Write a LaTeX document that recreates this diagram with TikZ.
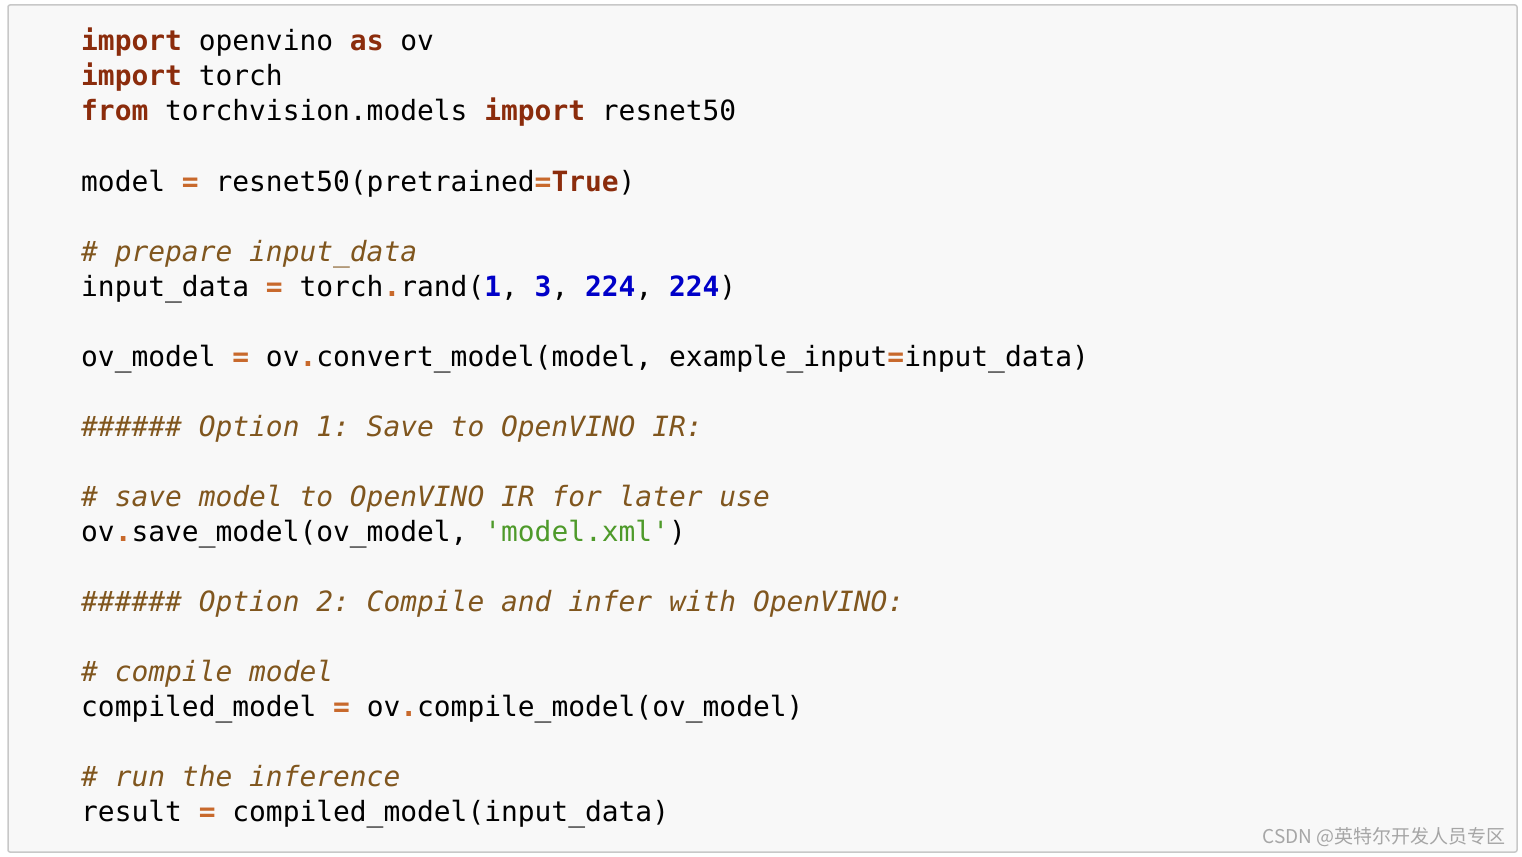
\documentclass[tikz,border=0pt]{standalone}
\usepackage{fontspec}
\setmonofont{DejaVu Sans Mono}
\newfontfamily\cjk{Noto Sans CJK SC}
\definecolor{kwc}{HTML}{8B2C0C}
\definecolor{opc}{HTML}{C8692C}
\definecolor{numc}{HTML}{0000C8}
\definecolor{cmc}{HTML}{80561E}
\definecolor{stc}{HTML}{4E9A2A}
\definecolor{bgc}{HTML}{F8F8F8}
\definecolor{brd}{HTML}{C8C8C8}
\newcommand\kw[1]{{\bfseries\color{kwc}#1}}
\newcommand\opx[1]{{\bfseries\color{opc}#1}}
\newcommand\nm[1]{{\bfseries\color{numc}#1}}
\newcommand\cmx[1]{{\itshape\color{cmc}#1}}
\newcommand\stx[1]{{\color{stc}#1}}
\begin{document}
\begin{tikzpicture}[x=1pt,y=-1pt,
  code/.style={anchor=base west,inner sep=0pt,font=\ttfamily\fontsize{27.9}{30}\selectfont}]
\useasboundingbox (0,0) rectangle (1522,856);
\draw[brd,fill=bgc,line width=1.5pt,rounded corners=2pt] (8,5) rectangle (1517,852);
\node[code] (l1) at (81,51) {\kw{import} openvino \kw{as} ov};
\node[code] (l2) at (81,86) {\kw{import} torch};
\node[code] (l3) at (81,121) {\kw{from} torchvision.models \kw{import} resnet50};
\node[code] (l4) at (81,191) {model \opx{=} resnet50(pretrained\opx{=}\kw{True})};
\node[code] (l5) at (81,261) {\cmx{\# prepare input\_data}};
\node[code] (l6) at (81,296) {input\_data \opx{=} torch\opx{.}rand(\nm{1}, \nm{3}, \nm{224}, \nm{224})};
\node[code] (l7) at (81,366) {ov\_model \opx{=} ov\opx{.}convert\_model(model, example\_input\opx{=}input\_data)};
\node[code] (l8) at (81,436) {\cmx{\#\#\#\#\#\# Option 1: Save to OpenVINO IR:}};
\node[code] (l9) at (81,506) {\cmx{\# save model to OpenVINO IR for later use}};
\node[code] (l10) at (81,541) {ov\opx{.}save\_model(ov\_model, \stx{'model.xml'})};
\node[code] (l11) at (81,611) {\cmx{\#\#\#\#\#\# Option 2: Compile and infer with OpenVINO:}};
\node[code] (l12) at (81,681) {\cmx{\# compile model}};
\node[code] (l13) at (81,716) {compiled\_model \opx{=} ov\opx{.}compile\_model(ov\_model)};
\node[code] (l14) at (81,786) {\cmx{\# run the inference}};
\node[code] (l15) at (81,821) {result \opx{=} compiled\_model(input\_data)};
\node[anchor=base east,inner sep=0pt,text=black!35,font=\cjk\fontsize{19}{20}\selectfont] (wm) at (1506,843) {CSDN @英特尔开发人员专区};
\end{tikzpicture}
\end{document}
